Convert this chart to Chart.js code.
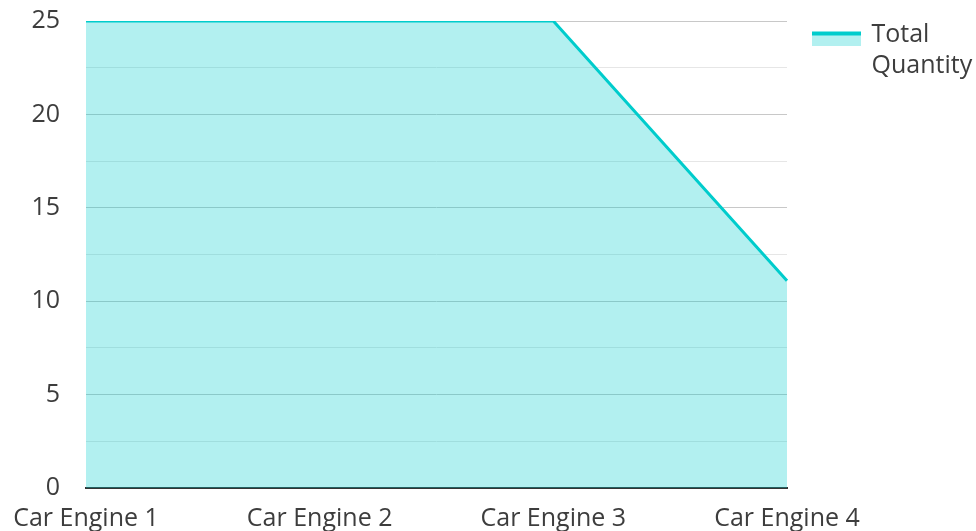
<!DOCTYPE html>
<html lang="en">
<head>
    <meta charset="UTF-8">
    <title>Total Quantity</title>
    <style>
        body, html {
            margin: 0;
            padding: 0;
            background: #ffffff;
            overflow: hidden;
        }
    </style>
</head>
<body>

<canvas id="quantityChart" width="976" height="531"></canvas>

<script src="https://cdn.jsdelivr.net/npm/chart.js"></script>
<script>
    const categories = ['Car Engine 1', 'Car Engine 2', 'Car Engine 3', 'Car Engine 4'];
    const totalQuantity = [25, 25, 25, 11.1];
    const seriesLabel = ['Total', 'Quantity'];

    const lineColor = '#00CCCC';
    const fillColor = 'rgba(0, 204, 204, 0.3)';
    const textColor = '#3d3d3d';

    // legend swatch: thick line on top, area fill under it
    // (transparent margin on the top/left so it sits like the original)
    function makeSwatch() {
        const c = document.createElement('canvas');
        c.width = 54;
        c.height = 22;
        const g = c.getContext('2d');
        g.fillStyle = fillColor;
        g.fillRect(5, 8, 49, 14);
        g.fillStyle = lineColor;
        g.fillRect(5, 8, 49, 4);
        return c;
    }

    Chart.defaults.font.family = '"Open Sans", "Noto Sans", sans-serif';
    Chart.defaults.font.size = 25;
    Chart.defaults.color = textColor;

    const swatch = makeSwatch();

    new Chart(document.getElementById('quantityChart'), {
        type: 'line',
        data: {
            labels: categories,
            datasets: [{
                label: seriesLabel.join(' '),
                data: totalQuantity,
                borderColor: lineColor,
                backgroundColor: fillColor,
                borderWidth: 3,
                fill: 'origin',
                pointRadius: 0,
                tension: 0
            }]
        },
        options: {
            responsive: false,
            animation: false,
            layout: {
                padding: 0
            },
            scales: {
                x: {
                    offset: false,
                    grid: {
                        display: false,
                        drawTicks: false
                    },
                    border: {
                        display: true,
                        color: '#333333',
                        width: 2
                    },
                    ticks: {
                        padding: 16,
                        maxRotation: 0,
                        autoSkip: false
                    },
                    afterFit: s => {
                        s.height = 43;
                        s.paddingLeft = 0;
                        s.paddingRight = 0;
                    }
                },
                y: {
                    min: 0,
                    max: 25,
                    grid: {
                        drawTicks: false,
                        lineWidth: 1,
                        color: ctx => (ctx.tick && ctx.tick.value % 5 === 0) ? '#c8c8c8' : '#e6e6e6'
                    },
                    border: { display: false },
                    ticks: {
                        stepSize: 2.5,
                        padding: 26,
                        callback: v => (v % 5 === 0 ? v : '')
                    },
                    afterFit: s => {
                        s.width = 86;
                        s.paddingTop = 21;
                        s.paddingBottom = 0;
                    }
                }
            },
            plugins: {
                tooltip: { enabled: false },
                legend: {
                    position: 'right',
                    align: 'start',
                    maxWidth: 189,
                    labels: {
                        usePointStyle: true,
                        pointStyleWidth: 50,
                        boxHeight: 14,
                        padding: 22,
                        font: { size: 25, lineHeight: 1.27 },
                        generateLabels: chart => chart.data.datasets.map((ds, i) => ({
                            text: seriesLabel,
                            fillStyle: ds.backgroundColor,
                            strokeStyle: ds.borderColor,
                            lineWidth: 0,
                            pointStyle: swatch,
                            fontColor: textColor,
                            hidden: false,
                            datasetIndex: i
                        }))
                    }
                }
            }
        }
    });
</script>

</body>
</html>
